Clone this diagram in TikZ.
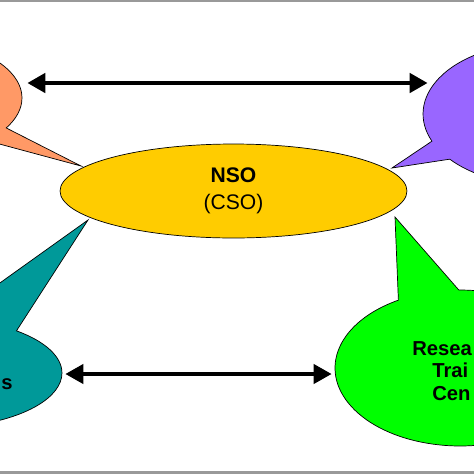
\documentclass[tikz,border=0pt]{standalone}
\usepackage{fontspec}
\setmainfont{Liberation Sans}
\usepackage{xcolor}
\usepackage{tikz}
\usetikzlibrary{positioning, calc, shapes.geometric, shapes.callouts, arrows.meta}

\definecolor{nsogold}{HTML}{FFCC00}
\definecolor{bubbleorange}{HTML}{FF9966}
\definecolor{bubblepurple}{HTML}{9966FF}
\definecolor{bubbleteal}{HTML}{009999}
\definecolor{bubblegreen}{HTML}{00FF00}
\definecolor{framegray}{HTML}{999999}

\tikzset{
    bubble/.style={ellipse callout, draw=black, line width=0.4pt, inner sep=0pt},
    twoway/.style={{Triangle[length=0.36cm,width=0.38cm]}-{Triangle[length=0.36cm,width=0.38cm]}},
    bubbletext/.style={font=\fontsize{11.5}{12.9}\selectfont\bfseries, inner sep=0pt},
}

\begin{document}
\begin{tikzpicture}[x=0.02cm, y=-0.02cm]
        % the frame
        \useasboundingbox (0,0) rectangle (474,474);
        \clip (0,0) rectangle (474,474);

        % the office in the middle
        \node[ellipse, draw, line width=0.4pt, fill=nsogold, minimum width=6.94cm, minimum height=1.88cm,
              align=center, font=\fontsize{12}{15.4}\selectfont] (nso) at (233.5,191) {\textbf{NSO}\\(CSO)};

        % the bubbles
        \node[bubble, fill=bubbleorange, minimum width=4.88cm, minimum height=2.44cm,
              callout absolute pointer={($(nso.center)+(-152.5,-25)$)}, callout pointer arc=15] (orange) at (-100,98) {};
        \node[bubble, fill=bubblepurple, minimum width=4.68cm, minimum height=2.84cm,
              callout absolute pointer={($(nso.center)+(158.5,-23)$)}, callout pointer arc=17] (purple) at (540,114) {};
        \node[bubble, fill=bubbleteal, minimum width=5.08cm, minimum height=2.2cm,
              callout absolute pointer={($(nso.center)+(-145.5,29)$)}, callout pointer arc=33] (teal) at (-65,373) {};
        \node[bubble, fill=bubblegreen, minimum width=5cm, minimum height=3.12cm,
              callout absolute pointer={($(nso.center)+(161.5,26)$)}, callout pointer arc=29] (green) at (460,368) {};

        % what is left of their labels
        \node[bubbletext, anchor=base west] (tealname) at (1,389) {s};
        \node[bubbletext, anchor=north west, align=left] (greenname) at (412,341)
              {Resea\\\hspace*{0.4cm}Trai\\\hspace*{0.4cm}Cen};

        % the two arrows
        \draw[twoway, line width=0.09cm] ($(orange.east)+(5,-15)$) -- ($(purple.west)+(5,-31)$);
        \draw[twoway, line width=0.08cm] ($(teal.east)+(3,1)$) -- ($(green.west)+(-3,6)$);

        % grey edges
        \fill[framegray] (0,0) rectangle (474,2);
        \fill[framegray] (0,471) rectangle (474,474);
    \end{tikzpicture}
\end{document}
